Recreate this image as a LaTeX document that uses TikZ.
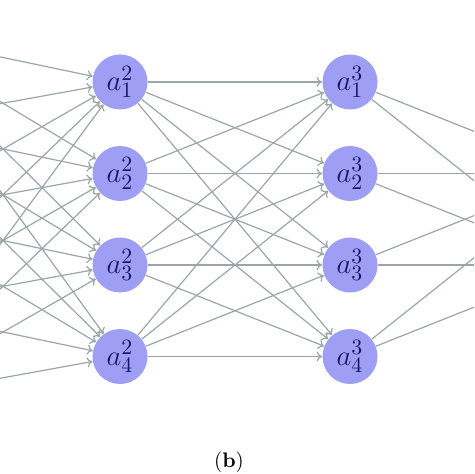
\documentclass[tikz,border=0pt]{standalone}
\usetikzlibrary{arrows.meta}
\definecolor{nfill}{RGB}{158,158,244}
\definecolor{ntext}{RGB}{22,22,110}
\definecolor{edgec}{RGB}{155,166,166}
\begin{document}
\begin{tikzpicture}[x=0.5pt,y=-0.5pt,
  neuron/.style={circle,fill=nfill,draw=none,minimum size=27.5pt,inner sep=0pt,text=ntext,font=\fontsize{15}{18}\selectfont},
  conn/.style={draw=edgec,line width=0.6pt,-{To[length=2.8pt,width=5pt]}},
  caption/.style={font=\fontsize{10.5}{12}\selectfont}]
\clip (0,0) rectangle (474,474);
\fill[white] (0,0) rectangle (474,474);
% input layer (off picture)
\foreach \i in {1,...,5}
  \coordinate (I-\i) at (-114,{33+91.5*(\i-1)});
% hidden layers
\foreach \j/\yy in {1/82,2/173.5,3/265,4/356.5} {
  \node[neuron] (H-\j) at (120,\yy) {$a^2_{\j}$};
  \node[neuron] (K-\j) at (350,\yy) {$a^3_{\j}$};
}
% output layer (off picture)
\coordinate (O-1) at (580,173.5);
\coordinate (O-2) at (580,265);
% connections
\foreach \i in {1,...,5}
  \foreach \j in {1,...,4}
    \draw[conn] (I-\i) -- (H-\j);
\foreach \i in {1,...,4}
  \foreach \j in {1,...,4}
    \draw[conn] (H-\i) -- (K-\j);
\foreach \i in {1,...,4}
  \foreach \j in {1,2}
    \draw[conn] (K-\i) -- (O-\j);
\node[caption] (cap) at (229,462) {(\textbf{b})};
\end{tikzpicture}
\end{document}
